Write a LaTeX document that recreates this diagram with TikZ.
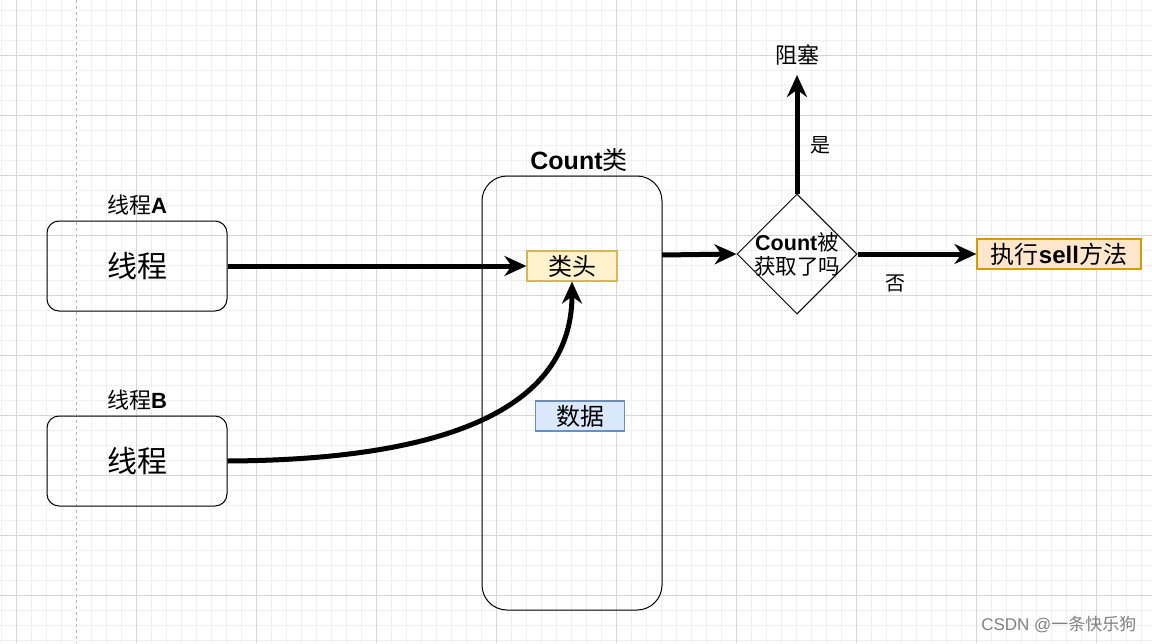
\documentclass[tikz,border=0pt]{standalone}
\usepackage{fontspec}
\setmainfont{Noto Sans CJK SC}
\newfontfamily\lat{Liberation Sans}
\usetikzlibrary{arrows.meta,shapes.geometric}
\definecolor{gmin}{HTML}{F0F0F0}
\definecolor{gmaj}{HTML}{D6D6D6}
\definecolor{yf}{HTML}{FFF2CC}\definecolor{yd}{HTML}{D6B656}
\definecolor{bf}{HTML}{DAE8FC}\definecolor{bd}{HTML}{6C8EBF}
\definecolor{of}{HTML}{FFE6CC}\definecolor{od}{HTML}{D79B00}
\tikzset{
 rbox/.style={draw,line width=1pt,rounded corners=12pt,minimum width=180pt,minimum height=90pt,font=\fontsize{30}{32}\selectfont},
 lbl/.style={font=\fontsize{22}{24}\selectfont},
 fat/.style={line width=5pt,-{Stealth[length=22pt,width=20pt]}},
 tag/.style={draw,line width=1.2pt,inner sep=0pt,font=\fontsize{24}{26}\selectfont}
}
\begin{document}
\begin{tikzpicture}[x=1pt,y=-1pt]
\useasboundingbox (0,0) rectangle (1152,643);
\fill[white] (0,0) rectangle (1152,643);
\foreach \x in {1,16,...,1152} \draw[gmin,line width=0.8pt] (\x,0)--(\x,643);
\foreach \y in {10,25,...,643} \draw[gmin,line width=0.8pt] (0,\y)--(1152,\y);
\foreach \x in {16,136,...,1152} \draw[gmaj,line width=0.8pt] (\x,0)--(\x,643);
\foreach \y in {55,115,...,643} \draw[gmaj,line width=0.8pt] (0,\y)--(1152,\y);
\fill[white] (74,0) rectangle (78,643);
\draw[gray!60,line width=1pt,dashed] (76,0)--(76,643);

\node[rbox] (A) at (137,266) {线程};
\node[lbl] (la) at (137,205) {线程\lat\bfseries A};
\node[rbox] (B) at (137,461) {线程};
\node[lbl] (lb) at (137,400) {线程\lat\bfseries B};
\node[draw,line width=1pt,rounded corners=25pt,minimum width=180pt,minimum height=434pt] (C) at (572,393) {};
\node[font=\fontsize{25}{27}\selectfont] (ct) at (579,160) {{\lat\bfseries Count}类};
\node[tag,fill=yf,draw=yd,minimum width=90pt,minimum height=30pt] (H) at (572,266) {类头};
\node[tag,fill=bf,draw=bd,minimum width=89pt,minimum height=30pt] (D) at (580,416) {数据};
\node[diamond,draw,line width=1pt,minimum width=120pt,minimum height=120pt,inner sep=0pt,aspect=1] (Q) at (797,254) {};
\node[align=center,inner sep=0pt,font=\fontsize{21.5}{24}\selectfont] (qt) at (Q.center) {{\lat\bfseries Count}被\\获取了吗};
\node[tag,fill=of,draw=od,minimum width=164pt,minimum height=30pt] (S) at (1059,254) {执行{\lat\bfseries sell}方法};
\node[lbl] (blk) at (797,55) {阻塞};
\coordinate (top) at (797,75);
\node[font=\fontsize{20}{22}\selectfont] (yes) at (820,145) {是};
\node[font=\fontsize{20}{22}\selectfont] (no) at (895,283) {否};
\node[text=gray,font=\lat\fontsize{17}{19}\selectfont,anchor=east] (wm) at (1140,625) {CSDN @\rmfamily 一条快乐狗};

\draw[fat] (A.east) -- (H.west);
\draw[fat] (B.east) .. controls (420,460) and (572,420) .. (H.south);
\draw[fat] (662,255) -- (Q.west);
\draw[fat] (Q.north) -- (top);
\draw[fat] (Q.east) -- (S.west);
\end{tikzpicture}
\end{document}
